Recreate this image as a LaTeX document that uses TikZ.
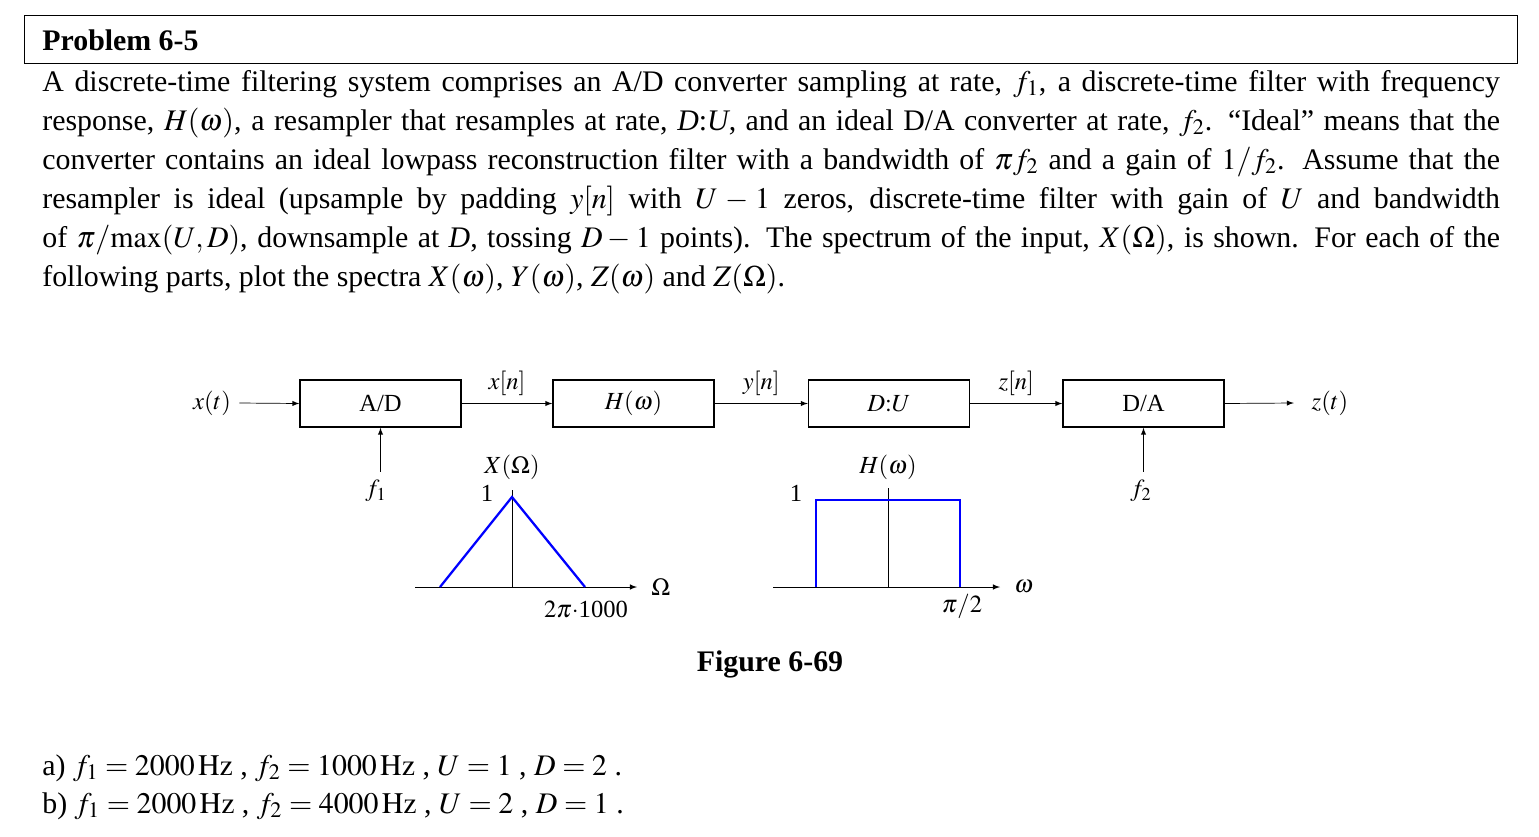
\documentclass[tikz,border=0pt]{standalone}
\usepackage{mathptmx}
\usepackage{fontspec}
\setmainfont{Liberation Serif}
\begin{document}
\begin{tikzpicture}[x=0.02cm,y=-0.02cm,
  body/.style={anchor=west,inner sep=0,font=\fontsize{17}{20}\selectfont},
  lbl/.style={inner sep=0,font=\fontsize{14}{16}\selectfont},
  blk/.style={draw,thick,minimum width=3.22cm,minimum height=0.94cm,inner sep=0,font=\fontsize{14}{16}\selectfont},
  sig/.style={-latex,thin},
  spec/.style={blue,line width=1.3pt}]
\useasboundingbox (0,0) rectangle (1539,836);
\node[draw,thick,minimum width=29.86cm,minimum height=0.96cm,anchor=north west] (tb) at (24,15) {};
\node[body,font=\bfseries\fontsize{17}{20}\selectfont] (title) at (42,40) {Problem 6-5};
\node[body] (l1) at (42,84) {\makebox[29.16cm][s]{A discrete-time filtering system comprises an A/D converter sampling at rate, $f_1$, a discrete-time filter with frequency}};
\node[body] (l2) at (42,123) {\makebox[29.16cm][s]{response, $H(\omega)$, a resampler that resamples at rate, \textit{D}:\textit{U}, and an ideal D/A converter at rate, $f_2$. ``Ideal'' means that the}};
\node[body] (l3) at (42,162) {\makebox[29.16cm][s]{converter contains an ideal lowpass reconstruction filter with a bandwidth of $\pi f_2$ and a gain of $1/f_2$. Assume that the}};
\node[body] (l4) at (42,201) {\makebox[29.16cm][s]{resampler is ideal (upsample by padding $y[n]$ with $U-1$ zeros, discrete-time filter with gain of $U$ and bandwidth}};
\node[body] (l5) at (42,240) {\makebox[29.16cm][s]{of $\pi/\mathrm{max}(U,D)$, downsample at \textit{D}, tossing $D-1$ points). The spectrum of the input, $X(\Omega)$, is shown. For each of the}};
\node[body] (l6) at (42,279) {following parts, plot the spectra $X(\omega)$, $Y(\omega)$, $Z(\omega)$ and $Z(\Omega)$.};

\node[blk] (ad) at (380.5,403.5) {A/D};
\node[blk] (h) at (633.5,403.5) {$H(\omega)$};
\node[blk] (du) at (889,403.5) {$D{:}U$};
\node[blk] (da) at (1143.5,403.5) {D/A};
\node[lbl] (xt) at (212,403) {$x(t)$};
\node[lbl] (zt) at (1330,403) {$z(t)$};
\draw[sig] (xt.east)++(8,0) coordinate (xs) -- (ad.west);
\draw[sig] (ad) -- (h) node[lbl,midway,above=4pt] {$x[n]$};
\draw[sig] (h) -- (du) node[lbl,midway,above=4pt] {$y[n]$};
\draw[sig] (du) -- (da) node[lbl,midway,above=4pt] {$z[n]$};
\draw[sig] (da.east) -- ([xshift=-10]zt.west);
\node[lbl] (f1) at (376,491) {$f_1$};
\node[lbl] (f2) at (1141,491) {$f_2$};
\draw[sig] (f1.north -| ad.south) ++(0,-8) -- (ad.south);
\draw[sig] (f2.north -| da.south) ++(0,-8) -- (da.south);

% X(Omega)
\coordinate (o1) at (512,587);
\draw[-latex] (415,587) -- (637,587) node[lbl,right=8pt] (om1) {$\Omega$};
\draw (o1) -- (512,490);
\draw[spec] (440,587) -- (512,497) -- (585,587);
\node[lbl] (xl) at (512,467) {$X(\Omega)$};
\node[lbl] (one1) at (487,493) {1};
\node[lbl] (tk1) at (586,609) {$2\pi\cdot$1000};
% H(omega)
\draw[-latex] (773,587) -- (1000,587) node[lbl,right=8pt] (om2) {$\omega$};
\draw (888,587) -- (888,488);
\draw[spec] (816,587) -- (816,500) -- (960,500) -- (960,587);
\node[lbl] (hl) at (888,467) {$H(\omega)$};
\node[lbl] (one2) at (796,493) {1};
\node[lbl] (tk2) at (962,606) {$\pi/2$};

\node[font=\bfseries\fontsize{17}{20}\selectfont] (fig) at (770,664) {Figure 6-69};
\node[body] (pa) at (42,768) {a) $f_1=2000\,\mathrm{Hz}$ , $f_2=1000\,\mathrm{Hz}$ , $U=1$ , $D=2$ .};
\node[body] (pb) at (42,806) {b) $f_1=2000\,\mathrm{Hz}$ , $f_2=4000\,\mathrm{Hz}$ , $U=2$ , $D=1$ .};
\end{tikzpicture}
\end{document}
